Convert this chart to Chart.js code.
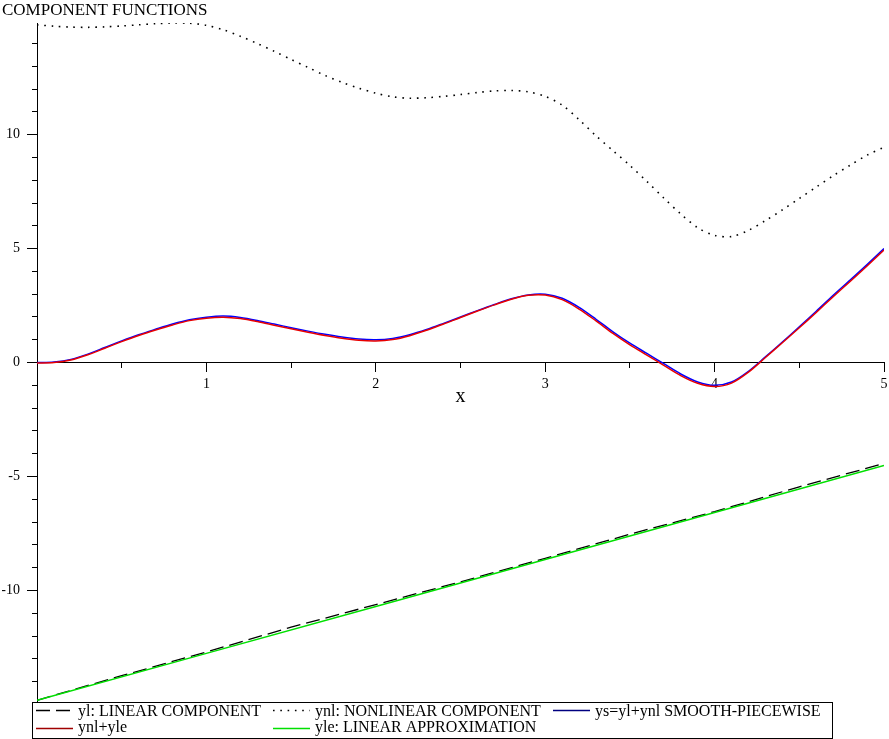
<!DOCTYPE html>
<html><head><meta charset="utf-8">
<script src="https://cdn.jsdelivr.net/npm/chart.js@4/dist/chart.umd.min.js"></script>
<style>html,body{margin:0;padding:0;background:#fff}#wrap{width:889px;height:739px;position:relative}</style>
</head><body><div id="wrap"><canvas id="c"></canvas></div>
<script>
// ---- data ----
const xFine = [0,0.1,0.2,0.3,0.4,0.5,0.6,0.7,0.8,0.9,1.0,1.1,1.2,1.3,1.4,1.5,1.6,1.7,1.8,1.9,2.0,2.1,2.2,2.3,2.4,2.5,2.6,2.7,2.8,2.9,3.0,3.1,3.2,3.3,3.4,3.5,3.6,3.7,3.8,3.9,4.0,4.1,4.2,4.3,4.4,4.5,4.6,4.7,4.8,4.9,5.0];
const ysValues = [0,0.03,0.14,0.37,0.66,0.95,1.22,1.46,1.69,1.88,1.99,2.04,1.98,1.85,1.69,1.53,1.38,1.24,1.12,1.03,1.0,1.06,1.22,1.45,1.72,2.0,2.28,2.55,2.8,2.97,3.0,2.82,2.42,1.9,1.35,0.85,0.4,-0.05,-0.5,-0.85,-1.0,-0.85,-0.38,0.25,0.9,1.57,2.25,2.95,3.62,4.3,5.0];
const ynlValues = [14.82,14.76,14.72,14.71,14.73,14.77,14.82,14.87,14.90,14.89,14.80,14.60,14.32,14.00,13.66,13.30,12.95,12.60,12.30,12.04,11.82,11.66,11.60,11.62,11.68,11.76,11.85,11.92,11.94,11.88,11.68,11.30,10.66,9.95,9.30,8.65,7.95,7.22,6.52,5.92,5.58,5.53,5.80,6.23,6.70,7.20,7.70,8.20,8.66,9.10,9.45];
const ynlYleValues = [-0.02,0.0,0.11,0.34,0.63,0.92,1.19,1.43,1.65,1.84,1.95,1.99,1.93,1.80,1.64,1.48,1.33,1.19,1.07,0.98,0.95,1.01,1.18,1.42,1.69,1.98,2.26,2.53,2.78,2.95,2.96,2.76,2.35,1.83,1.28,0.78,0.33,-0.12,-0.57,-0.91,-1.05,-0.90,-0.42,0.22,0.87,1.53,2.20,2.89,3.56,4.24,4.94];
const ylX = [0,0.5,1,1.5,2,2.5,3,3.5,4,4.5,5];
const ylValues = [-14.82,-13.74,-12.70,-11.61,-10.62,-9.62,-8.59,-7.53,-6.54,-5.45,-4.43];
const yleX = [0,1,2,3,4,5];
const yleValues = [-14.82,-12.76,-10.70,-8.64,-6.58,-4.52];
const seriesLabels = ['yl: LINEAR COMPONENT','ynl: NONLINEAR COMPONENT','ys=yl+ynl SMOOTH-PIECEWISE','ynl+yle','yle: LINEAR APPROXIMATION'];
const xTickLabels = ['1','2','3','4','5'];
const yTickLabels = ['-10','-5','0','5','10'];
const titleText = 'COMPONENT FUNCTIONS';
const xAxisLabel = 'x';

const pts = (xs, ys) => xs.map((x, i) => ({x: x, y: ys[i]}));
const SERIF = '"Liberation Serif", "Times New Roman", serif';
const noPad = (s) => { s.paddingLeft = 0; s.paddingRight = 0; };

const boxLegend = {
  id: 'boxLegend',
  afterDraw(chart) {
    const ctx = chart.ctx;
    const ds = chart.data.datasets;
    const colX = [36, 273, 553];
    const rowLine = [710.5, 728.5];
    const rowBase = [715.5, 731.5];
    const slots = [[0,0],[0,1],[0,2],[1,0],[1,1]];
    ctx.save();
    ctx.strokeStyle = '#000';
    ctx.lineWidth = 1;
    ctx.setLineDash([]);
    ctx.strokeRect(32.5, 702.5, 800, 36);
    ds.forEach((d, i) => {
      const [r, c] = slots[i];
      const x0 = colX[c];
      ctx.beginPath();
      ctx.setLineDash(d.borderDash || []);
      ctx.strokeStyle = d.legendColor || d.borderColor;
      ctx.lineWidth = 1.3;
      ctx.moveTo(x0, rowLine[r]);
      ctx.lineTo(x0 + 37, rowLine[r]);
      ctx.stroke();
      ctx.setLineDash([]);
      ctx.fillStyle = '#000';
      ctx.font = '16px ' + SERIF;
      ctx.textAlign = 'left';
      ctx.textBaseline = 'alphabetic';
      ctx.fillText(d.label, x0 + 42, rowBase[r]);
    });
    // axis label "x"
    const xs = chart.scales.x, yS = chart.scales.y;
    ctx.font = '20px ' + SERIF;
    ctx.textAlign = 'center';
    ctx.fillText(xAxisLabel, xs.getPixelForValue(2.5), yS.getPixelForValue(0) + 39);
    ctx.restore();
  }
};

new Chart(document.getElementById('c'), {
  type: 'line',
  data: {
    datasets: [
      {label: seriesLabels[0], data: pts(ylX, ylValues), borderColor: '#000', borderWidth: 1.3, borderDash: [14, 6], tension: 0, order: 5},
      {label: seriesLabels[1], data: pts(xFine, ynlValues), borderColor: '#000', borderWidth: 1.6, borderDash: [1.6, 5.7], tension: 0.3, order: 4},
      {label: seriesLabels[2], data: pts(xFine, ysValues), borderColor: '#0000ff', legendColor: '#000080', borderWidth: 1.5, tension: 0.3, order: 3},
      {label: seriesLabels[3], data: pts(xFine, ynlYleValues), borderColor: '#e80000', legendColor: '#a00000', borderWidth: 1.5, tension: 0.3, order: 2},
      {label: seriesLabels[4], data: pts(yleX, yleValues), borderColor: '#00e000', borderWidth: 1.5, tension: 0, order: 1}
    ]
  },
  options: {
    responsive: true,
    maintainAspectRatio: false,
    animation: false,
    events: [],
    elements: {point: {radius: 0}, line: {fill: false}},
    layout: {padding: {left: 2, right: 5, top: 0, bottom: 38}},
    plugins: {
      legend: {display: false},
      tooltip: {enabled: false},
      title: {display: true, text: titleText, align: 'start', color: '#000',
              font: {family: SERIF, size: 17, weight: 'normal'}, padding: {top: 0, bottom: 2.6}}
    },
    scales: {
      x: {
        type: 'linear', min: 0, max: 5, position: {y: 0},
        afterFit: noPad,
        ticks: {stepSize: 1, color: '#000', font: {family: SERIF, size: 14}, padding: 4,
                callback: (v) => { const i = xTickLabels.indexOf(String(v)); return i >= 0 ? xTickLabels[i] : ''; }},
        grid: {drawOnChartArea: false, tickLength: 9, tickColor: '#000', tickWidth: 1},
        border: {display: true, color: '#000', width: 1}
      },
      xMinor: {
        type: 'linear', min: 0, max: 5, position: {y: 0},
        afterFit: noPad,
        ticks: {stepSize: 0.5, display: false},
        grid: {drawOnChartArea: false, tickLength: 5, tickColor: '#000', tickWidth: 1},
        border: {display: false}
      },
      y: {
        type: 'linear', min: -14.85, max: 14.9, position: 'left',
        afterFit: (s) => { s.width = 35; },
        ticks: {stepSize: 5, includeBounds: false, color: '#000', font: {family: SERIF, size: 14}, padding: 7,
                callback: (v) => { const i = yTickLabels.indexOf(String(v)); return i >= 0 ? yTickLabels[i] : ''; }},
        grid: {drawOnChartArea: false, tickLength: 10, tickColor: '#000', tickWidth: 1},
        border: {display: true, color: '#000', width: 1}
      },
      yMinor: {
        type: 'linear', min: -14.85, max: 14.9, position: {x: 0},
        ticks: {stepSize: 1, includeBounds: false, display: false},
        grid: {drawOnChartArea: false, tickLength: 5, tickColor: '#000', tickWidth: 1},
        border: {display: false}
      }
    }
  },
  plugins: [boxLegend]
});
</script>
</body></html>
